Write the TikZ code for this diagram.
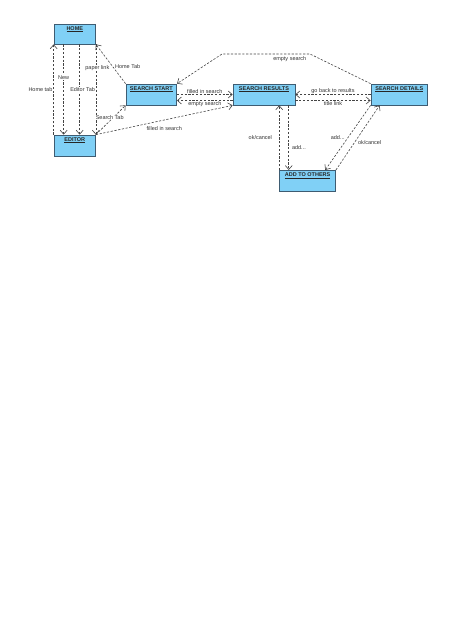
\documentclass[tikz,border=0pt]{standalone}
\usepackage{fontspec}
\setmainfont{Liberation Sans}
\usetikzlibrary{arrows.meta,calc}
\definecolor{boxblue}{HTML}{80D0F6}
\definecolor{boxline}{HTML}{3E5C72}
\definecolor{linkgray}{HTML}{444444}
\tikzset{
  screen/.style={draw=boxline, fill=boxblue, line width=0.7pt, minimum width=#1,
    minimum height=21pt, inner sep=0pt},
  title/.style={anchor=north, inner sep=2.5pt, text=black!85,
    font=\fontsize{5.5}{6}\selectfont\bfseries},
  link/.style={dashed, dash pattern=on 2.2pt off 1.6pt, linkgray, line width=0.6pt,
    -{Straight Barb[length=4pt,width=7pt,line width=0.6pt]}},
  lbl/.style={font=\fontsize{5.5}{6}\selectfont, text=black!80, inner sep=1pt},
  onlink/.style={lbl, fill=white, inner sep=0.4pt}
}
\begin{document}
\begin{tikzpicture}[x=1pt, y=-1pt]
	\useasboundingbox[fill=white] (0,0) rectangle (452,640);
	% screens
	\node[screen=41.5pt, minimum height=20pt, label={[title]north:\underline{HOME}}]        (HOME) at (74.75,34) {};
	\node[screen=41.5pt, label={[title]north:\underline{EDITOR}}]                          (EDIT) at (74.75,145.5) {};
	\node[screen=50.7pt, label={[title]north:\underline{SEARCH START}}]                    (SS)   at (151.3,94.5) {};
	\node[screen=62pt,   label={[title]north:\underline{SEARCH RESULTS}}]                  (SR)   at (264,94.5) {};
	\node[screen=56.7pt, label={[title]north:\underline{SEARCH DETAILS}}]                  (SD)   at (399.3,94.5) {};
	\node[screen=56pt,   label={[title]north:\underline{ADD TO OTHERS}}]                   (ADD)  at (307.6,180.8) {};
	% home / editor
	\draw[link] (EDIT.north west) -- node[lbl, left] {Home tab} (HOME.south west);
	\draw[link] ($(HOME.south west)+(10,0)$) -- node[onlink, pos=0.37] {New} ($(EDIT.north west)+(10,0)$);
	\draw[link] ($(HOME.south west)+(26,0)$) -- node[onlink, pos=0.5, xshift=3pt] {Editor Tab} ($(EDIT.north west)+(26,0)$);
	\draw[link] (HOME.south east) -- node[onlink, pos=0.26, xshift=1.5pt] {paper link} (EDIT.north east);
	\draw[link] (SS.north west) -- node[lbl, pos=0.43, right, xshift=1pt] {Home Tab} (HOME.south east);
	\draw[link] (EDIT.north east) -- node[onlink, pos=0.6, xshift=-4pt] {Search Tab} (SS.south west);
	\draw[link] (EDIT.north east) -- node[lbl, pos=0.5, below, yshift=-5pt] {filled in search} (SR.south west);
	% search start / results / details
	\draw[link] (SS.east) -- node[lbl, above] {filled in search} (SR.west);
	\draw[link] ($(SR.west)+(0,6)$) -- node[lbl, below] {empty search} ($(SS.east)+(0,6)$);
	\draw[link] (SD.west) -- node[lbl, above] {go back to results} (SR.east);
	\draw[link] ($(SR.east)+(0,6)$) -- node[lbl, below] {title link} ($(SD.west)+(0,6)$);
	\coordinate (top1) at (310,54);
	\coordinate (top2) at (222,54);
	\draw[link] (SD.north west) -- (top1) -- node[lbl, pos=0.23, below, yshift=-1pt] {empty search} (top2) -- (SS.north east);
	% add to others
	\coordinate (R1) at ($(ADD.north west)+(9.5,0)$);
	\draw[link] (ADD.north west) -- node[lbl, left, xshift=-6pt] {ok/cancel} (ADD.north west |- SR.south);
	\draw[link] (R1 |- SR.south) -- node[lbl, right, pos=0.65, xshift=2pt] {add...} (R1);
	\coordinate (D1) at ($(SD.south west)+(9,0)$);
	\coordinate (A1) at ($(ADD.north east)+(-10.7,0)$);
	\draw[link] (SD.south west) -- node[lbl, left, pos=0.5, xshift=-2pt] {add...} (A1);
	\draw[link] (ADD.north east) -- node[lbl, right, pos=0.43, xshift=2pt] {ok/cancel} (D1);
\end{tikzpicture}
\end{document}
